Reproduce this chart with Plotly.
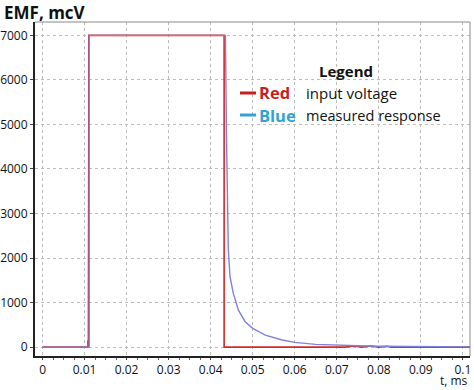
import plotly.graph_objects as go

# Red: input voltage
red_t = [0.0, 0.0108, 0.0108, 0.0109, 0.0110, 0.0110, 0.0432, 0.0432, 0.072, 0.074, 0.076, 0.078, 0.080, 0.082, 0.083, 0.1017]
red_v = [0, 0, 150, 0, 5100, 7000, 7000, 0, 0, 25, 0, 25, 0, 20, 0, 0]

# Blue: measured response
blue_t = [0.0, 0.0111, 0.0111, 0.0435, 0.0438, 0.0440, 0.0442, 0.0446, 0.0454, 0.0466, 0.0482,
          0.050, 0.053, 0.057, 0.060, 0.065, 0.070, 0.075, 0.080, 0.085, 0.090, 0.1017]
blue_v = [0, 0, 7000, 7000, 4500, 3300, 2180, 1580, 1200, 830, 570,
          420, 270, 160, 105, 62, 42, 30, 20, 14, 10, 6]

x_ticks = [0, 0.01, 0.02, 0.03, 0.04, 0.05, 0.06, 0.07, 0.08, 0.09, 0.1]
x_labels = ["0", "0.01", "0.02", "0.03", "0.04", "0.05", "0.06", "0.07", "0.08", "0.09", "0.1"]
y_ticks = [0, 1000, 2000, 3000, 4000, 5000, 6000, 7000]

fig = go.Figure()
fig.add_trace(go.Scatter(x=red_t, y=red_v, mode="lines",
                         line=dict(color="#d42a2a", width=1.6), showlegend=False))
fig.add_trace(go.Scatter(x=blue_t, y=blue_v, mode="lines",
                         line=dict(color="#8080e0", width=1.4), showlegend=False))

tickfont = dict(family="Open Sans", size=12, color="#111111")
fig.update_xaxes(range=[-0.0018, 0.1017], tickvals=x_ticks, ticktext=x_labels,
                 showgrid=True, gridcolor="#bdbdbd", griddash="dot", gridwidth=1,
                 showline=True, linecolor="#222222", linewidth=2,
                 ticks="outside", ticklen=2, tickcolor="#444444",
                 minor=dict(dtick=0.0025, ticks="outside", ticklen=2, tickcolor="#666666", showgrid=False),
                 zeroline=False, tickfont=tickfont, automargin=False)
fig.update_yaxes(range=[-200, 7300], tickvals=y_ticks,
                 showgrid=True, gridcolor="#bdbdbd", griddash="dot", gridwidth=1,
                 showline=True, linecolor="#222222", linewidth=2,
                 ticks="outside", ticklen=3, tickcolor="#444444",
                 zeroline=False, tickfont=tickfont, automargin=False)

# gray top/right frame
fig.add_shape(type="line", xref="paper", yref="paper", x0=0, x1=1, y0=1, y1=1,
              line=dict(color="#888888", width=1))
fig.add_shape(type="line", xref="paper", yref="paper", x0=1, x1=1, y0=0, y1=1,
              line=dict(color="#888888", width=1))

# legend lines
fig.add_shape(type="line", xref="paper", yref="paper", x0=(240-35)/435, x1=(256-35)/435,
              y0=(356-93)/334, y1=(356-93)/334, line=dict(color="#c81e1e", width=3))
fig.add_shape(type="line", xref="paper", yref="paper", x0=(240-35)/435, x1=(256-35)/435,
              y0=(356-115)/334, y1=(356-115)/334, line=dict(color="#2ea3d6", width=3))

ann = [
    dict(text="<b>EMF, mcV</b>", x=3, y=12, font=dict(family="Open Sans", size=17, color="#111111"), ya="middle"),
    dict(text="t, ms", x=439, y=390, font=dict(family="Open Sans", size=12, color="#111111"), ya="bottom"),
    dict(text="<b>Legend</b>", x=318, y=71, font=dict(family="Open Sans", size=15, color="#111111"), ya="middle"),
    dict(text="<b>Red</b>", x=258, y=93, font=dict(family="Open Sans", size=16.5, color="#c81e1e"), ya="middle"),
    dict(text="input voltage", x=305, y=93, font=dict(family="Open Sans", size=15, color="#111111"), ya="middle"),
    dict(text="<b>Blue</b>", x=258, y=115, font=dict(family="Open Sans", size=16.5, color="#2ea3d6"), ya="middle"),
    dict(text="measured response", x=305, y=115, font=dict(family="Open Sans", size=14.5, color="#111111"), ya="middle"),
]
for a in ann:
    fig.add_annotation(text=a["text"], xref="paper", yref="paper",
                       x=(a["x"]-35)/435, y=(356-a["y"])/334, borderpad=0,
                       xanchor="left", yanchor=a["ya"], showarrow=False, font=a["font"])

fig.update_layout(width=474, height=390, margin=dict(l=35, r=4, t=22, b=34, autoexpand=False),
                  paper_bgcolor="white", plot_bgcolor="white")
fig.write_html("out.html", config={"displayModeBar": False},
               post_script="document.body.style.margin='0';document.body.style.padding='0';")
